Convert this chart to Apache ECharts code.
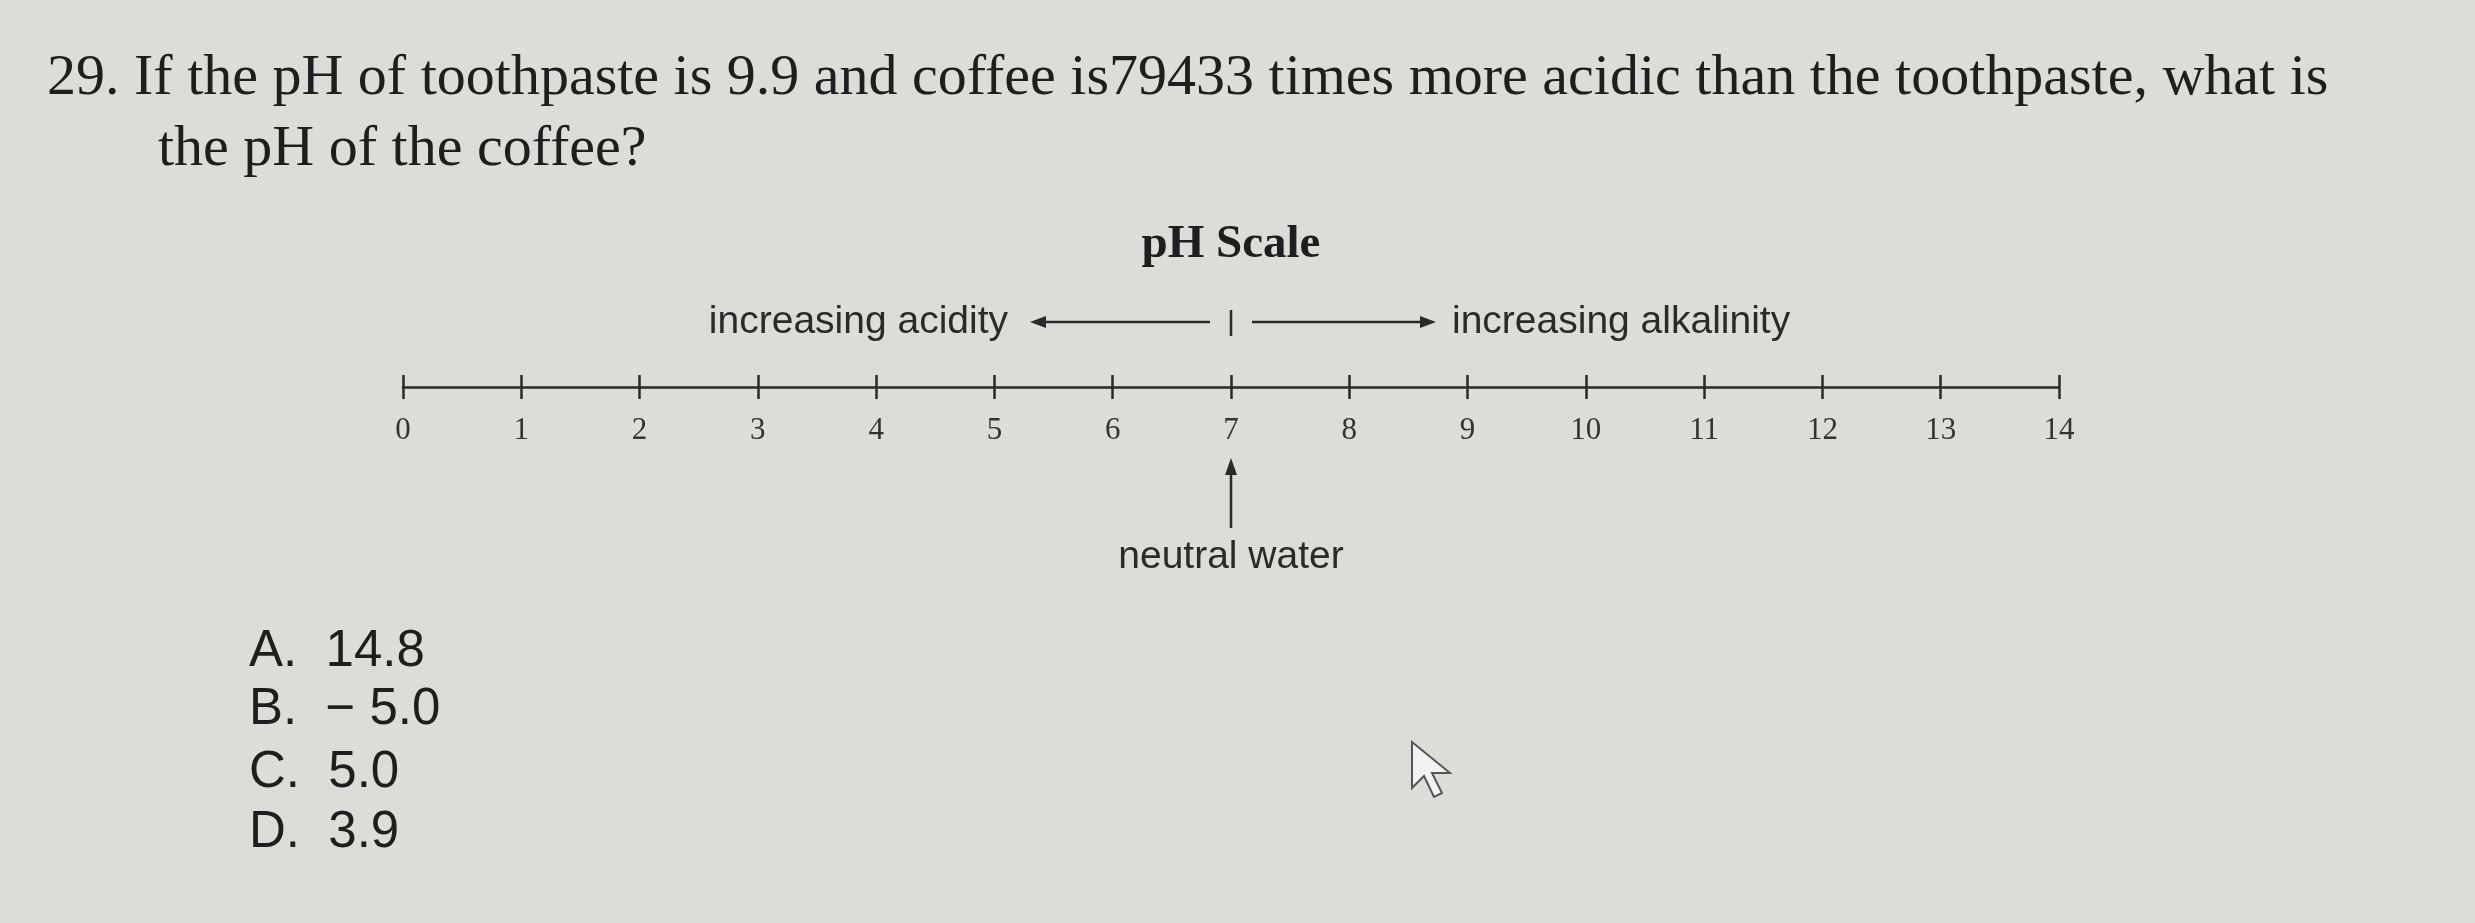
<!DOCTYPE html>
<html><head><meta charset="utf-8">
<script src="https://cdn.jsdelivr.net/npm/echarts@6/dist/echarts.min.js"></script>
<style>html,body{margin:0;background:#dcdcd9}#c{width:2475px;height:923px}</style>
</head><body><div id="c"></div>
<script>
// pH scale data
var phMin = 0, phMax = 14
var tickLabels = ['0','1','2','3','4','5','6','7','8','9','10','11','12','13','14']
var neutralPh = 7
var question = ['29. If the pH of toothpaste is 9.9 and coffee is79433 times more acidic than the toothpaste, what is',
  'the pH of the coffee?']
var choices = ['A.  14.8', 'B.  \u2212 5.0', 'C.  5.0', 'D.  3.9']

var chart = echarts.init(document.getElementById('c'))
var ink = '#2a2a2a'
var serif = '"Liberation Serif", "DejaVu Serif", serif'
var sans = '"Liberation Sans", Arial, sans-serif'

var axisCommon = {
  type: 'value', min: phMin, max: phMax, interval: 1,
  splitLine: { show: false }
}

chart.setOption({
  backgroundColor: '#dcdcd9',
  animation: false,
  grid: [
    { left: 403, right: 416, top: 300, height: 87 },
    { left: 403, right: 416, top: 387, height: 100 }
  ],
  xAxis: [
    Object.assign({}, axisCommon, {
      gridIndex: 0, position: 'bottom',
      axisLine: { onZero: false, lineStyle: { color: ink, width: 2.5 } },
      axisTick: { length: 12, lineStyle: { color: ink, width: 2.5 } },
      axisLabel: { margin: 28, fontFamily: serif, fontSize: 31, color: '#333',
        formatter: function (v) { return tickLabels[v] } }
    }),
    Object.assign({}, axisCommon, {
      gridIndex: 1, position: 'top',
      axisLine: { show: false, onZero: false },
      axisTick: { length: 12, lineStyle: { color: ink, width: 2.5 } },
      axisLabel: { show: false }
    })
  ],
  yAxis: [
    { type: 'value', gridIndex: 0, show: false },
    { type: 'value', gridIndex: 1, show: false }
  ],
  series: [
    { type: 'scatter', xAxisIndex: 0, yAxisIndex: 0, data: [], silent: true }
  ]
})

var nx = chart.convertToPixel({ xAxisIndex: 0 }, neutralPh)
var g = []
question.forEach(function (t, i) {
  g.push({ type: 'text', x: i === 0 ? 47 : 158, y: [79, 150][i],
    style: { text: t, font: '58px ' + serif, fill: '#1e1e1e', verticalAlign: 'middle' } })
})
g.push({ type: 'text', x: nx, y: 245, style: { text: 'pH Scale', font: 'bold 47px ' + serif, fill: '#1e1e1e', align: 'center', verticalAlign: 'middle' } })
g.push({ type: 'text', x: 1008, y: 322, style: { text: 'increasing acidity', font: '39px ' + sans, fill: ink, align: 'right', verticalAlign: 'middle' } })
g.push({ type: 'text', x: 1452, y: 322, style: { text: 'increasing alkalinity', font: '39px ' + sans, fill: ink, align: 'left', verticalAlign: 'middle' } })
g.push({ type: 'line', shape: { x1: nx, y1: 310, x2: nx, y2: 336 }, style: { stroke: ink, lineWidth: 2.5 } })
g.push({ type: 'line', shape: { x1: 1040, y1: 322, x2: 1210, y2: 322 }, style: { stroke: ink, lineWidth: 2.5 } })
g.push({ type: 'polygon', shape: { points: [[1030, 322], [1046, 316], [1046, 328]] }, style: { fill: ink } })
g.push({ type: 'line', shape: { x1: 1252, y1: 322, x2: 1424, y2: 322 }, style: { stroke: ink, lineWidth: 2.5 } })
g.push({ type: 'polygon', shape: { points: [[1436, 322], [1420, 316], [1420, 328]] }, style: { fill: ink } })
g.push({ type: 'line', shape: { x1: nx, y1: 472, x2: nx, y2: 528 }, style: { stroke: ink, lineWidth: 2.5 } })
g.push({ type: 'polygon', shape: { points: [[nx, 458], [nx - 6, 475], [nx + 6, 475]] }, style: { fill: ink } })
g.push({ type: 'text', x: nx, y: 557, style: { text: 'neutral water', font: '39px ' + sans, fill: ink, align: 'center', verticalAlign: 'middle' } })
choices.forEach(function (t, i) {
  g.push({ type: 'text', x: 249, y: [652, 710, 773, 833][i], style: { text: t, font: '51px ' + sans, fill: '#1e1e1e', verticalAlign: 'middle' } })
})
g.push({ type: 'polygon', shape: { points: [[1412, 742], [1412, 788], [1424, 776], [1434, 797], [1442, 793], [1432, 773], [1450, 773]] },
  style: { fill: '#f2f2f2', stroke: '#555', lineWidth: 2 } })
chart.setOption({ graphic: g })
</script></body></html>
